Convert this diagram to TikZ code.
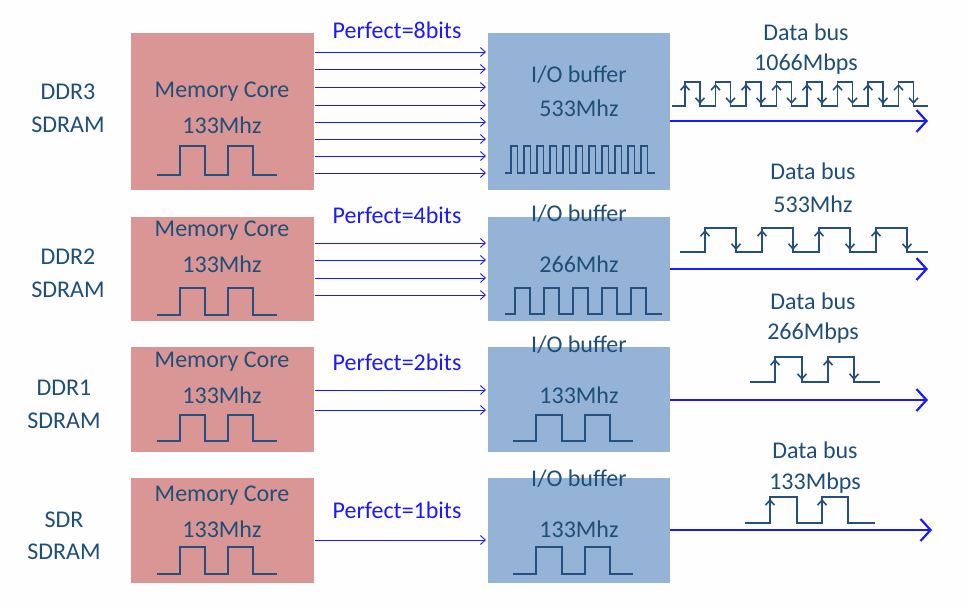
\documentclass[tikz,border=0pt]{standalone}
\usepackage{fontspec}
\setmainfont{Carlito}
\usetikzlibrary{arrows.meta}
\definecolor{core}{HTML}{DA9694}
\definecolor{iob}{HTML}{95B3D7}
\definecolor{txt}{HTML}{1F4E79}
\definecolor{wav}{HTML}{254F7F}
\definecolor{bl}{HTML}{1A1AFF}
\tikzset{
  corebox/.style={fill=core,draw=none},
  iobox/.style={fill=iob,draw=none},
  lbl/.style={text=txt,font=\fontsize{24}{26}\selectfont,inner sep=0},
  blbl/.style={text=bl,font=\fontsize{24}{26}\selectfont,inner sep=0},
  wave/.style={draw=wav,line width=1.6pt},
  bit/.style={draw=bl,line width=0.9pt,-{Straight Barb[length=5pt,width=9pt]}},
  bus/.style={draw=bl,line width=2.2pt,-{Straight Barb[length=10pt,width=22pt,line width=2.2pt]}},
  edg/.style={draw=wav,line width=1.6pt,-{Straight Barb[length=5pt,width=9pt]}}
}
\begin{document}
\begin{tikzpicture}[x=1pt,y=-1pt]
\fill[white!99!gray] (0,0) rectangle (969,607);
\useasboundingbox (0,0) rectangle (969,607);
\foreach \nm/\t/\b in {a/33/190,b/217/321,c/347/452,d/478/583}{
  \path[corebox] (131,\t) rectangle (314,\b);
  \path[iobox] (488,\t) rectangle (670,\b);
}
\node[lbl] (l1) at (68,92) {DDR3}; \node[lbl] (l2) at (68,125) {SDRAM};
\node[lbl] (l3) at (68,257) {DDR2}; \node[lbl] (l4) at (68,290) {SDRAM};
\node[lbl] (l5) at (64,388) {DDR1}; \node[lbl] (l6) at (64,421) {SDRAM};
\node[lbl] (l7) at (64,520) {SDR}; \node[lbl] (l8) at (64,552) {SDRAM};
\foreach \i/\y in {1/92,2/231,3/362,4/496}{
  \node[lbl] (mc\i) at (222,\y) {Memory Core};
  \node[lbl] (mf\i) at (222,\y+33) {133Mhz};
  \node[lbl] (io\i) at (579,\y-17) {I/O buffer};
}
\node[lbl] (if1) at (579,108) {533Mhz};
\node[lbl] (if2) at (579,264) {266Mhz};
\node[lbl] (if3) at (579,395) {133Mhz};
\node[lbl] (if4) at (579,529) {133Mhz};
\node[blbl] (p1) at (397,30) {Perfect=8bits};
\node[blbl] (p2) at (397,215) {Perfect=4bits};
\node[blbl] (p3) at (397,362) {Perfect=2bits};
\node[blbl] (p4) at (397,510) {Perfect=1bits};
\node[lbl] (d1) at (806,32) {Data bus}; \node[lbl] (r1) at (806,64) {1066Mbps};
\node[lbl] (d2) at (813,171) {Data bus}; \node[lbl] (r2) at (813,204) {533Mhz};
\node[lbl] (d3) at (813,301) {Data bus}; \node[lbl] (r3) at (813,333) {266Mbps};
\node[lbl] (d4) at (815,450) {Data bus}; \node[lbl] (r4) at (815,483) {133Mbps};
\foreach \t/\b in {146/175,288/315,415/441,547/574}{
  \draw[wave] (157,\b) -| (180,\t) -| (205,\b) -| (228,\t) -| (253,\b) -- (277,\b);
}
\draw[wave] (505,173) \foreach \k in {0,...,10}{ -| ({511+\k*13},146) -| ({517.5+\k*13},173)} -- (655,173);
\draw[wave] (505,314) \foreach \k in {0,...,4}{ -| ({515+\k*29},288) -| ({530+\k*29},314)} -- (662,314);
\draw[wave] (513,441) -| (536,415) -| (562,441) -| (585,415) -| (610,441) -- (633,441);
\draw[wave] (513,574) -| (536,547) -| (562,574) -| (585,547) -| (610,574) -- (633,574);
\foreach \y in {52,69,87,105,122,139,156,173}{ \draw[bit] (315,\y) -- (486,\y); }
\foreach \y in {243,260,278,295}{ \draw[bit] (315,\y) -- (486,\y); }
\foreach \y in {390,410}{ \draw[bit] (315,\y) -- (486,\y); }
\draw[bit] (315,540) -- (486,540);
\coordinate (e1) at (928,121); \coordinate (e2) at (928,269);
\coordinate (e3) at (928,400); \coordinate (e4) at (932,530);
\draw[bus] (670,121) -- (e1);
\draw[bus] (670,269) -- (e2);
\draw[bus] (670,400) -- (e3);
\draw[bus] (670,530) -- (e4);
\draw[wave] (672,106) \foreach \k in {0,...,7}{ -| ({685+\k*30.5},82) -| ({700+\k*30.5},106)} -- (928,106);
\foreach \k in {0,...,7}{
  \draw[edg] ({685+\k*30.5},106) -- ({685+\k*30.5},84);
  \draw[edg] ({700+\k*30.5},82) -- ({700+\k*30.5},104);}
\draw[wave] (680,252) \foreach \k in {0,...,3}{ -| ({705+\k*57},228) -| ({736+\k*57},252)} -- (928,252);
\foreach \k in {0,...,3}{
  \draw[edg] ({705+\k*57},252) -- ({705+\k*57},230);
  \draw[edg] ({736+\k*57},228) -- ({736+\k*57},250);}
\draw[wave] (750,382) -| (775,357) -| (802,382) -| (828,357) -| (854,382) -- (880,382);
\foreach \x in {775,828}{\draw[edg] (\x,382) -- (\x,359);}
\foreach \x in {802,854}{\draw[edg] (\x,357) -- (\x,380);}
\draw[wave] (745,523) -| (770,497) -| (797,523) -| (822,497) -| (848,523) -- (875,523);
\foreach \x in {770,822}{\draw[edg] (\x,523) -- (\x,499);}
\end{tikzpicture}
\end{document}
